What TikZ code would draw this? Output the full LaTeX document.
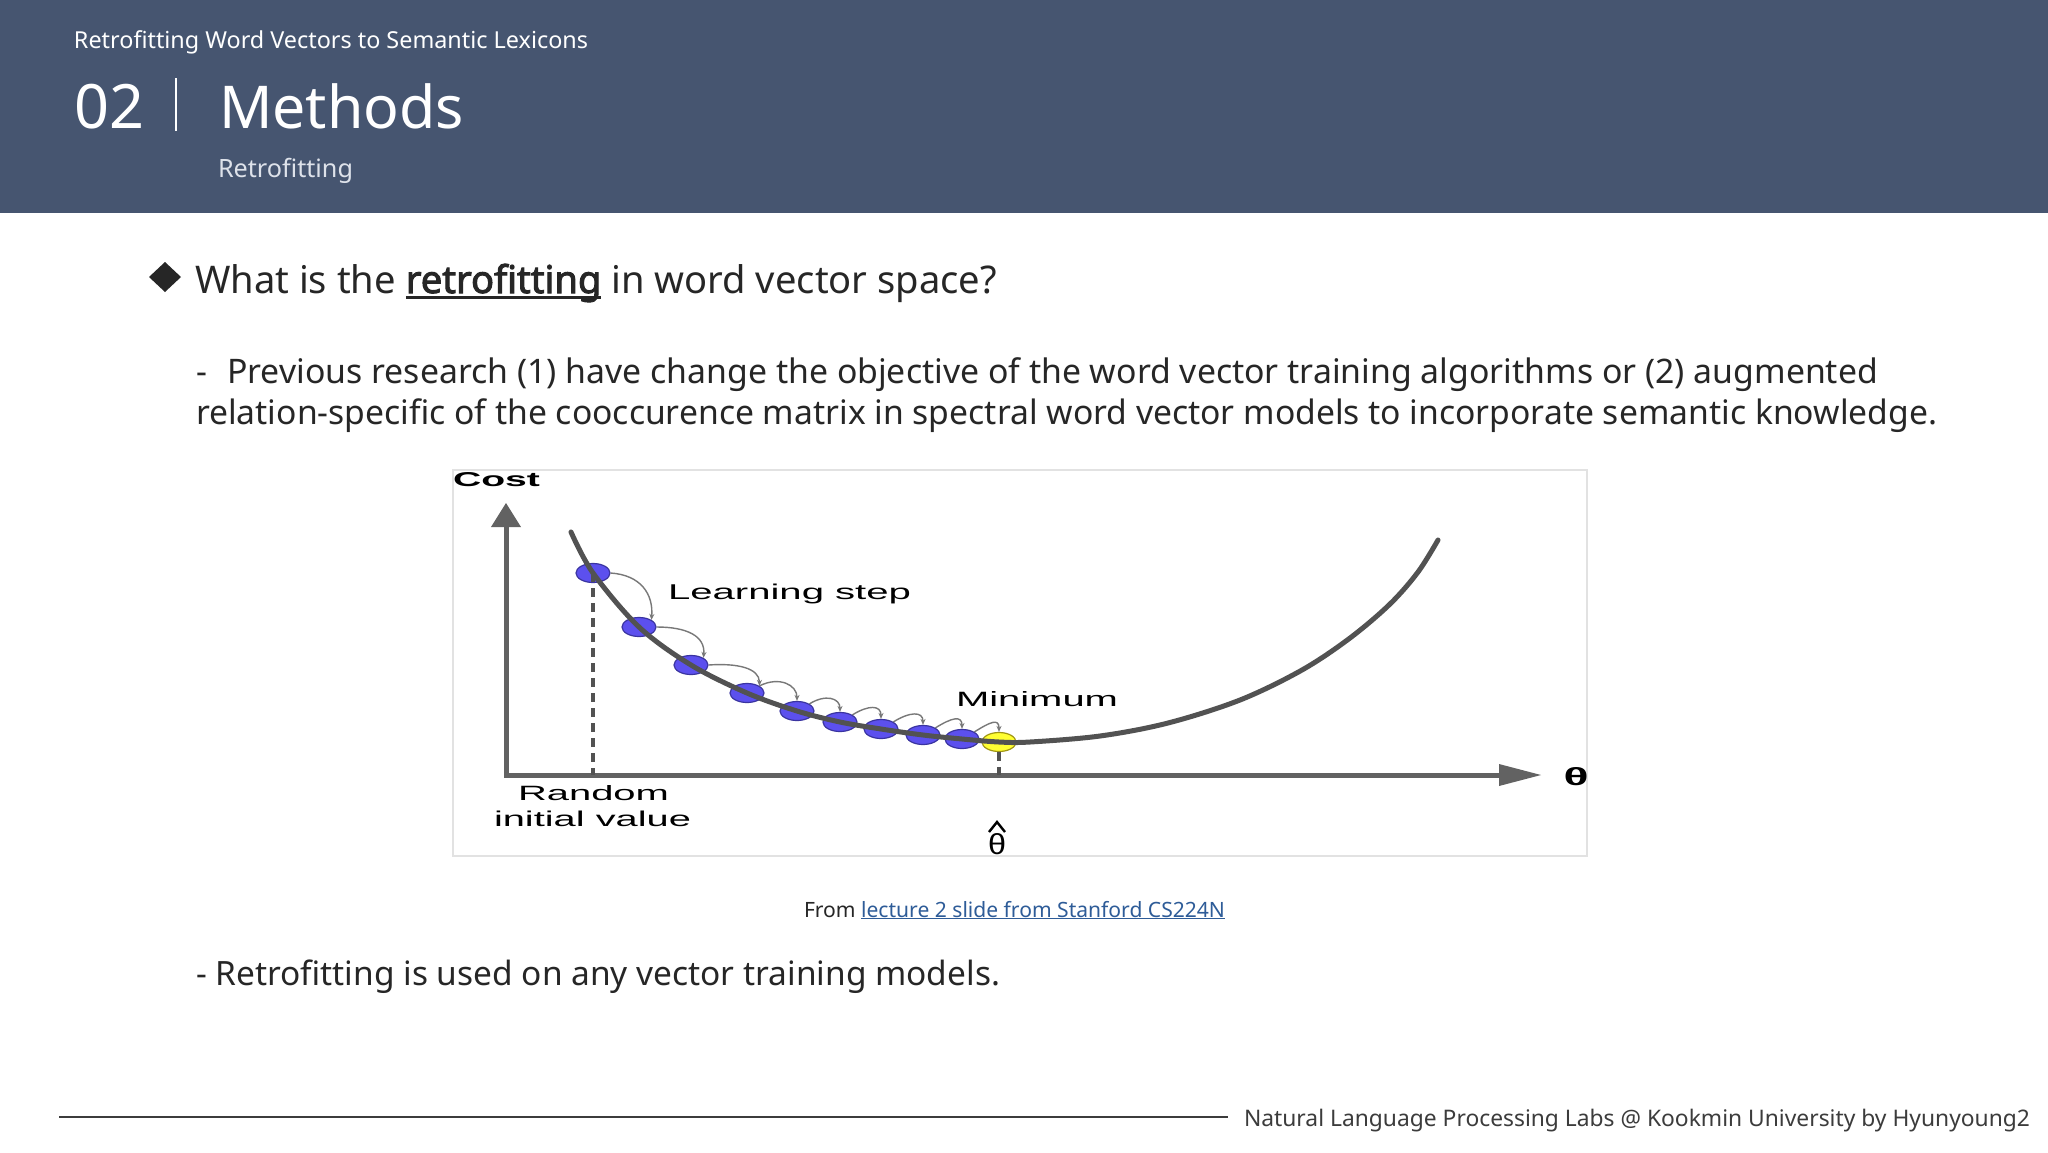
\documentclass[tikz,border=0pt]{standalone}
\usepackage{fontspec}
\setmainfont{Noto Sans}
\newfontfamily\qbold{Noto Sans}[FakeBold=2.6]
\newfontfamily\figfont{Liberation Sans}
\usetikzlibrary{arrows.meta,shapes.geometric}
\definecolor{hdr}{RGB}{70,85,112}
\definecolor{subc}{RGB}{222,226,234}
\definecolor{txt}{RGB}{38,38,38}
\definecolor{linkc}{RGB}{46,92,152}
\definecolor{axisc}{RGB}{98,98,98}
\definecolor{curvec}{RGB}{82,82,82}
\definecolor{arcc}{RGB}{120,120,120}
\definecolor{dotblue}{RGB}{92,80,238}
\definecolor{dotedge}{RGB}{58,52,160}
\definecolor{doty}{RGB}{255,255,50}
\definecolor{dotyedge}{RGB}{160,150,20}
\definecolor{framec}{RGB}{226,226,226}
\definecolor{footc}{RGB}{60,60,60}
\newcommand\fitW[2]{\resizebox{#1pt}{!}{#2}}
\newcommand\fitWH[3]{\resizebox{#1pt}{#2pt}{#3}}
\newcommand\thickul[1]{\setbox0\hbox{#1}\rlap{\rule[-5.5pt]{\wd0}{2.8pt}}\box0\relax}
\begin{document}
\begin{tikzpicture}[x=1pt,y=-1pt,
  tx/.style={anchor=base west,inner sep=0pt,outer sep=0pt},
  txc/.style={anchor=base,inner sep=0pt,outer sep=0pt},
  bdot/.style={ellipse,draw=dotedge,fill=dotblue,line width=1.2pt,minimum width=34pt,minimum height=19pt,inner sep=0pt},
  ydot/.style={ellipse,draw=dotyedge,fill=doty,line width=1.2pt,minimum width=34pt,minimum height=19pt,inner sep=0pt},
  arcarrow/.style={draw=arcc,line width=1.4pt,-{Stealth[length=6pt,width=5pt]}},
  dashv/.style={draw=curvec,line width=3.5pt,dash pattern=on 9pt off 6pt},
  figtext/.style={anchor=base west,inner sep=0pt,outer sep=0pt,text=black,font=\figfont}
]
\useasboundingbox (0,0) rectangle (2048,1152);
\fill[white] (0,0) rectangle (2048,1152);
% header band
\fill[hdr] (0,0) rectangle (2048,213);
\node[tx,text=white] (title) at (74,48) {\fitW{514}{\fontsize{27}{27}\selectfont Retrofitting Word Vectors to Semantic Lexicons}};
\node[tx,text=white] (num) at (74,128) {\fitW{70}{\fontsize{66}{66}\selectfont 02}};
\coordinate (bartop) at (176,78);
\coordinate (barbot) at (176,131);
\draw[white,line width=2pt] (bartop) -- (barbot);
\node[tx,text=white] (methods) at (219,128) {\fitW{245}{\fontsize{66}{66}\selectfont Methods}};
\node[tx,text=subc] (sub) at (218,177) {\fitW{135}{\fontsize{24}{24}\selectfont Retrofitting}};
% bullet question
\fill[txt] (165,262) -- (181,277) -- (165,292) -- (149,277) -- cycle;
\node[tx,text=txt] (q) at (195,293) {\fitW{802}{\fontsize{36}{36}\selectfont What is the \thickul{\qbold retrofitting} in word vector space?}};
\node[tx,text=txt] (l1) at (196,383) {\fitW{1682}{\fontsize{31}{31}\selectfont -\hspace{0.6em}Previous research (1) have change the objective of the word vector training algorithms or (2) augmented}};
\node[tx,text=txt] (l2) at (196,424) {\fitW{1741}{\fontsize{31}{31}\selectfont relation-specific of the cooccurence matrix in spectral word vector models to incorporate semantic knowledge.}};
% figure frame
\draw[framec,line width=1.5pt] (453,470) rectangle (1587,856);
% axes
\draw[axisc,line width=5pt,line join=miter] (506,526) -- (506,775) -- (1500,775);
\fill[axisc] (491,527) -- (506,503) -- (521,527) -- cycle;
\fill[axisc] (1499,764) -- (1541,775) -- (1499,786) -- cycle;
% dots
\node[bdot] (d1) at (593,573) {};
\node[bdot] (d2) at (639,627) {};
\node[bdot] (d3) at (691,665) {};
\node[bdot] (d4) at (747,693) {};
\node[bdot] (d5) at (797,711) {};
\node[bdot] (d6) at (840,722) {};
\node[bdot] (d7) at (881,729) {};
\node[bdot] (d8) at (923,735) {};
\node[bdot] (d9) at (962,739) {};
\node[ydot] (dm) at (999,742) {};
% dashed drops
\coordinate (d1foot) at (593,775);
\coordinate (dmfoot) at (999,775);
\draw[dashv] (d1.center) -- (d1foot);
\draw[dashv] (dm.south) -- (dmfoot);
% cost curve
\draw[curvec,line width=5pt,line cap=round] plot[smooth,tension=0.55] coordinates {
 (571,532) (593,573) (639,627) (691,665) (747,693) (797,711) (840,722) (881,729) (923,735) (962,739) (999,742) (1030,742) (1100,736) (1168,723) (1240,700) (1302,670) (1350,638) (1390,604) (1418,572) (1438,540)};
% learning step arcs
\draw[arcarrow] (d1.east) .. controls +(30,2) and +(2,-26) .. (d2.north east);
\draw[arcarrow] (d2.east) .. controls +(30,0) and +(2,-22) .. (d3.north east);
\draw[arcarrow] (d3.east) .. controls +(28,-2) and +(0,-18) .. (d4.north east);
\draw[arcarrow] (d4.north east) .. controls +(20,-10) and +(0,-16) .. (d5.north);
\draw[arcarrow] (d5.north east) .. controls +(16,-10) and +(0,-14) .. (d6.north);
\draw[arcarrow] (d6.north east) .. controls +(16,-10) and +(0,-14) .. (d7.north);
\draw[arcarrow] (d7.north east) .. controls +(16,-10) and +(0,-14) .. (d8.north);
\draw[arcarrow] (d8.north east) .. controls +(16,-10) and +(0,-14) .. (d9.north);
\draw[arcarrow] (d9.north east) .. controls +(16,-10) and +(0,-14) .. (dm.north);
% figure labels
\node[figtext] (cost) at (453,486) {\fitWH{87}{14}{\bfseries Cost}};
\node[figtext] (lstep) at (668,599) {\fitWH{243}{15.5}{Learning step}};
\node[figtext] (minl) at (956,706) {\fitWH{162}{15}{Minimum}};
\node[figtext] (rand) at (518,800) {\fitWH{151}{15}{Random}};
\node[figtext] (initv) at (494,826) {\fitWH{197}{15.5}{initial value}};
\node[txc,text=black,font=\figfont] (theta) at (1576,785) {\fitWH{25}{18}{\bfseries θ}};
\node[txc,text=black,font=\figfont] (thetahat) at (997,854) {\fitWH{18}{21}{θ}};
\coordinate (hatl) at (989,832);
\coordinate (hatt) at (997,822);
\coordinate (hatr) at (1005,832);
\draw[black,line width=2.4pt,line join=miter] (hatl) -- (hatt) -- (hatr);
% caption
\node[tx,text=txt] (cap) at (804,917) {\fitW{421}{\fontsize{22}{22}\selectfont From \textcolor{linkc}{\underline{lecture 2 slide from Stanford CS224N}}}};
% last line
\node[tx,text=txt] (l3) at (196,985) {\fitW{804}{\fontsize{34}{34}\selectfont - Retrofitting is used on any vector training models.}};
% footer
\coordinate (fl) at (59,1117);
\coordinate (fr) at (1228,1117);
\draw[footc,line width=1.3pt] (fl) -- (fr);
\node[tx,text=footc] (foot) at (1244,1126) {\fitW{786}{\fontsize{24}{24}\selectfont Natural Language Processing Labs @ Kookmin University by Hyunyoung2}};
\end{tikzpicture}
\end{document}
